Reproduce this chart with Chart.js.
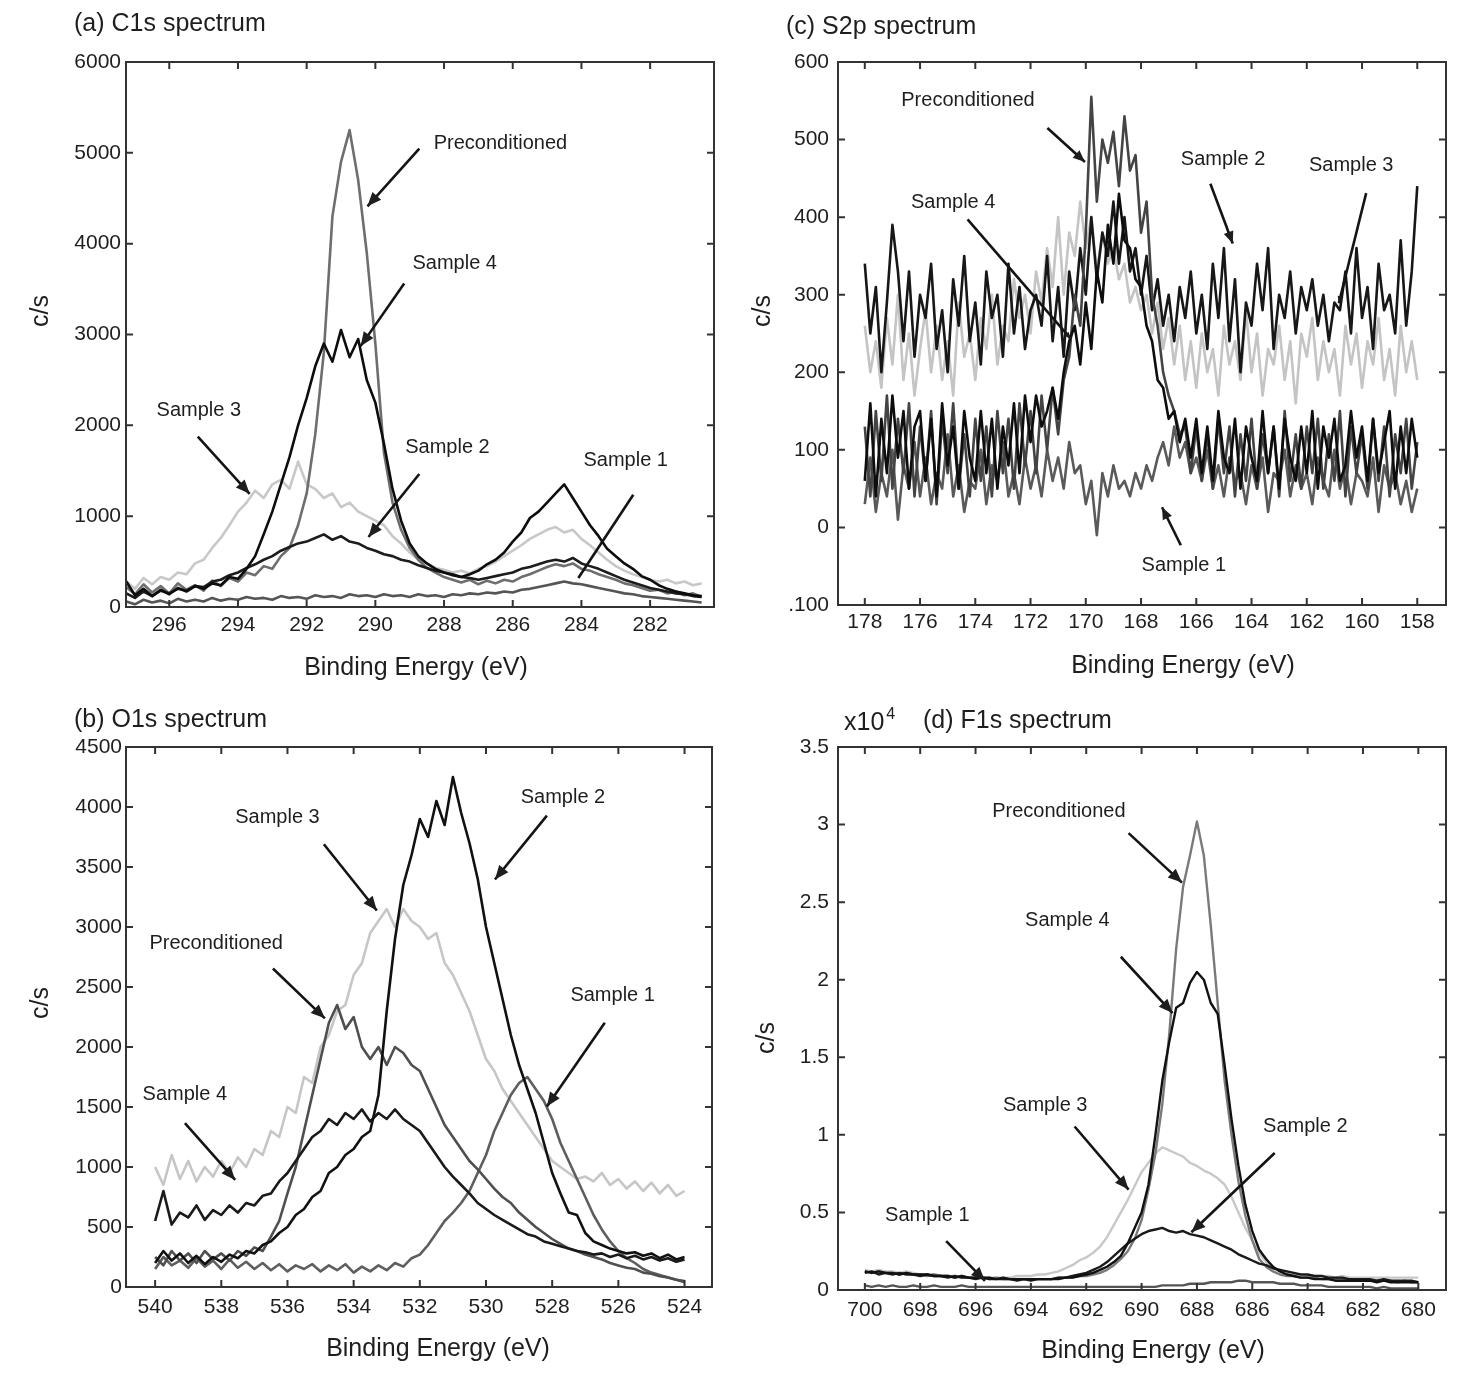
<!DOCTYPE html>
<html>
<head>
<meta charset="utf-8">
<script src="https://cdn.jsdelivr.net/npm/chart.js@4.4.0/dist/chart.umd.min.js"></script>
<style>
html,body{margin:0;padding:0;background:#ffffff;}
#wrap{position:relative;width:1470px;height:1381px;background:#fff;}
canvas{position:absolute;}
</style>
</head>
<body>
<div id="wrap">
<canvas id="cA" width="735" height="690" style="left:0px;top:0px;width:735px;height:690px"></canvas>
<canvas id="cC" width="735" height="690" style="left:735px;top:0px;width:735px;height:690px"></canvas>
<canvas id="cB" width="735" height="691" style="left:0px;top:690px;width:735px;height:691px"></canvas>
<canvas id="cD" width="735" height="691" style="left:735px;top:690px;width:735px;height:691px"></canvas>
</div>
<script>
// ---------------- (a) C1s spectrum ----------------
const c1sTitle = '(a) C1s spectrum';
const c1sStart = 297.25, c1sStep = 0.25;
const c1sXTicks = [296, 294, 292, 290, 288, 286, 284, 282];
const c1sYTicks = [0, 1000, 2000, 3000, 4000, 5000, 6000];
const c1sYTickLabels = ['0', '1000', '2000', '3000', '4000', '5000', '6000'];
const c1sPreconditioned = [220,140,250,160,230,150,260,190,240,180, 290,230,320,280,380,350,450,420,560,650, 900,1250,1900,2800,4300,4900,5250,4700,3900,2900, 1700,1150,850,650,520,430,380,330,300,270, 300,250,290,260,300,280,330,360,400,440, 470,450,480,420,400,360,330,300,260,240, 210,180,190,150,170,130,150,110];
const c1sSample1 = [60,30,80,50,70,40,90,60,80,60, 100,70,90,80,110,90,100,80,120,100, 110,90,130,110,120,100,140,120,130,110, 140,120,130,110,140,120,130,110,140,130, 150,140,160,150,170,160,190,200,220,240, 260,280,260,250,230,210,190,170,150,140, 120,110,100,90,80,70,60,50];
const c1sSample2 = [150,100,170,120,180,150,200,180,230,220, 280,300,350,380,430,470,520,560,620,660, 700,720,760,800,740,780,720,700,650,620, 580,560,520,500,460,430,400,380,360,330, 320,300,320,340,360,380,420,440,470,500, 520,500,540,480,450,420,380,340,300,270, 240,210,190,170,150,140,120,110];
const c1sSample3 = [280,200,320,250,330,300,380,360,480,520, 650,760,900,1050,1150,1280,1200,1350,1400,1300, 1600,1350,1300,1200,1250,1100,1150,1050,1000,950, 900,780,700,600,520,480,430,410,380,400, 370,420,450,500,560,620,680,750,800,850, 880,820,850,750,680,600,520,450,400,360, 330,300,280,300,260,280,240,260];
const c1sSample4 = [280,130,200,120,190,140,210,170,230,200, 260,240,330,310,420,560,800,1050,1350,1650, 2000,2300,2650,2900,2700,3050,2750,2950,2500,2250, 1800,1300,950,700,560,480,420,380,350,330, 360,400,470,520,600,720,820,980,1050,1150, 1250,1350,1200,1050,900,780,640,560,480,420, 340,300,240,200,170,150,130,120];

// ---------------- (b) O1s spectrum ----------------
const o1sTitle = '(b) O1s spectrum';
const o1sStart = 540, o1sStep = 0.25;
const o1sXTicks = [540, 538, 536, 534, 532, 530, 528, 526, 524];
const o1sYTicks = [0, 500, 1000, 1500, 2000, 2500, 3000, 3500, 4000, 4500];
const o1sYTickLabels = ['0', '500', '1000', '1500', '2000', '2500', '3000', '3500', '4000', '4500'];
const o1sPreconditioned = [250,180,300,220,280,200,300,230,280,220, 300,260,330,300,420,550,780,1000,1300,1600, 1900,2200,2350,2150,2250,2000,1900,2000,1850,2000, 1950,1850,1800,1650,1500,1350,1250,1150,1050,980, 900,820,750,700,620,560,500,450,400,360, 320,300,270,250,230,200,180,160,150,120, 110,90,80,60,50];
const o1sSample1 = [150,250,180,220,160,240,170,220,150,230, 160,210,150,200,140,190,130,180,150,190, 130,180,140,190,120,170,130,180,140,200, 170,240,270,350,450,550,620,700,800,950, 1100,1300,1450,1600,1700,1750,1650,1550,1400,1200, 1050,900,750,600,480,380,300,240,200,150, 120,100,80,60,40];
const o1sSample2 = [200,300,220,280,200,260,190,250,210,270, 240,300,280,350,380,450,500,600,650,750, 800,950,1000,1100,1150,1250,1300,1600,2300,2900, 3350,3600,3900,3750,4050,3850,4250,3950,3700,3400, 3000,2700,2400,2100,1850,1650,1450,1200,950,780, 620,600,450,380,350,320,300,280,290,260, 280,240,270,230,250];
const o1sSample3 = [1000,850,1100,900,1050,880,1000,920,1050,950, 1080,1000,1150,1100,1300,1250,1500,1450,1750,1700, 2000,2100,2300,2350,2600,2700,2950,3050,3150,3000, 3150,3050,3000,2900,2950,2700,2600,2450,2300,2100, 1900,1800,1650,1550,1450,1350,1250,1150,1050,1000, 950,900,920,880,950,850,900,820,880,800, 870,780,850,760,800];
const o1sSample4 = [550,800,520,620,580,680,560,640,600,680, 620,700,680,760,780,880,950,1050,1150,1250, 1300,1400,1350,1450,1400,1480,1380,1450,1400,1480, 1400,1350,1300,1200,1100,1000,920,850,780,700, 650,600,560,520,480,440,420,380,360,340, 320,300,290,270,280,250,270,240,260,230, 250,220,240,210,230];

// ---------------- (c) S2p spectrum ----------------
const s2pTitle = '(c) S2p spectrum';
const s2pStart = 178, s2pStep = 0.2;
const s2pXTicks = [178, 176, 174, 172, 170, 168, 166, 164, 162, 160, 158];
const s2pYTicks = [-100, 0, 100, 200, 300, 400, 500, 600];
const s2pYTickLabels = ['.100', '0', '100', '200', '300', '400', '500', '600'];
const s2pPreconditioned = [130,40,150,60,170,50,140,70,160,40, 130,60,150,30,140,70,160,50,120,40, 140,60,130,40,150,70,140,50,160,80, 150,70,170,100,180,120,190,220,300,260, 380,555,420,500,470,510,440,530,460,480, 380,420,300,260,200,170,150,120,130,70, 130,60,120,50,140,70,130,40,120,60, 140,50,120,70,130,40,150,60,120,50, 130,70,140,50,120,60,150,40,130,70, 120,50,140,60,130,40,120,70,140,50, 110];
const s2pSample1 = [30,90,20,70,40,100,10,80,50,110, 40,90,30,70,50,120,40,80,20,60, 50,100,30,80,60,110,40,70,30,90, 50,80,40,100,60,90,50,110,70,80, 30,60,-10,70,40,80,50,60,40,70, 50,80,60,90,110,80,130,90,110,70, 90,60,100,50,80,40,90,60,70,30, 80,50,90,20,70,60,100,40,80,50, 70,30,90,60,40,100,50,80,30,70, 60,40,90,20,80,50,70,30,60,20, 50];
const s2pSample2 = [340,250,310,200,290,390,330,240,330,220, 300,270,340,230,280,200,320,260,350,240, 290,210,330,270,300,220,340,250,310,230, 280,300,260,350,240,310,220,330,280,360, 300,400,320,380,350,420,340,400,330,360, 300,350,280,320,260,300,240,310,270,330, 250,300,230,340,270,360,240,320,200,290, 260,340,280,360,230,300,270,330,250,310, 280,320,260,300,240,290,280,330,250,360, 270,310,230,340,280,300,250,370,260,330, 440];
const s2pSample3 = [260,200,240,180,270,210,300,190,250,170, 230,280,200,260,190,240,170,290,220,250, 190,270,230,300,210,260,240,320,270,300, 250,330,290,360,310,400,300,380,350,420, 360,400,330,380,340,360,320,340,290,310, 280,300,250,290,230,270,210,260,190,240, 180,250,200,230,170,260,210,240,190,280, 200,250,170,230,210,260,190,240,160,250, 220,270,190,240,200,230,170,260,210,250, 180,240,210,270,190,230,170,260,200,240, 190];
const s2pSample4 = [60,160,40,140,70,170,90,150,50,130, 150,60,140,40,160,80,130,50,150,90, 60,150,70,140,50,130,80,160,70,170, 110,170,130,150,180,140,200,240,260,210, 290,230,330,290,390,340,430,370,360,320, 310,260,240,190,180,140,150,110,140,90, 140,70,130,60,150,90,70,140,50,130, 90,60,150,70,130,50,140,90,60,130, 70,150,50,130,90,140,60,80,150,90, 130,60,140,70,110,150,50,130,70,140, 90];

// ---------------- (d) F1s spectrum (x10^4 c/s) ----------------
const f1sTitle = '(d) F1s spectrum';
const f1sStart = 700, f1sStep = 0.25;
const f1sXTicks = [700, 698, 696, 694, 692, 690, 688, 686, 684, 682, 680];
const f1sYTicks = [0, 0.5, 1, 1.5, 2, 2.5, 3, 3.5];
const f1sYTickLabels = ['0', '0.5', '1', '1.5', '2', '2.5', '3', '3.5'];
const f1sPreconditioned = [0.12,0.11,0.12,0.11,0.11,0.10,0.11,0.10, 0.10,0.09,0.10,0.09,0.09,0.08,0.09,0.08, 0.08,0.08,0.07,0.08,0.07,0.07,0.07,0.07, 0.07,0.07,0.07,0.07,0.08,0.08,0.08,0.09, 0.09,0.10,0.11,0.13,0.16,0.20,0.25,0.33, 0.45,0.65,0.88,1.20,1.65,2.20,2.60,2.80, 3.02,2.80,2.35,1.85,1.35,1.00,0.70,0.48, 0.32,0.20,0.15,0.12,0.10,0.09,0.09,0.08, 0.08,0.08,0.07,0.07,0.07,0.07,0.06,0.06, 0.06,0.06,0.06,0.06,0.06,0.05,0.06,0.05,0.05];
const f1sSample1 = [0.03,0.02,0.03,0.02,0.03,0.02,0.02,0.03, 0.02,0.02,0.03,0.02,0.02,0.02,0.03,0.02, 0.02,0.02,0.02,0.02,0.02,0.02,0.02,0.02, 0.02,0.02,0.02,0.02,0.02,0.02,0.02,0.02, 0.02,0.02,0.02,0.02,0.02,0.02,0.02,0.02, 0.02,0.02,0.02,0.03,0.03,0.03,0.03,0.04, 0.04,0.04,0.05,0.05,0.05,0.05,0.06,0.06, 0.05,0.05,0.05,0.05,0.04,0.04,0.04,0.03, 0.03,0.03,0.03,0.02,0.02,0.02,0.02,0.02, 0.02,0.02,0.01,0.02,0.01,0.01,0.01,0.01,0.01];
const f1sSample2 = [0.11,0.12,0.10,0.11,0.10,0.11,0.10,0.10, 0.09,0.10,0.09,0.09,0.08,0.09,0.08,0.08, 0.07,0.08,0.07,0.07,0.07,0.07,0.06,0.07, 0.06,0.07,0.07,0.07,0.08,0.08,0.09,0.10, 0.11,0.13,0.15,0.18,0.22,0.26,0.30,0.33, 0.36,0.38,0.39,0.40,0.38,0.37,0.38,0.36, 0.35,0.34,0.32,0.30,0.28,0.26,0.23,0.21, 0.19,0.17,0.16,0.14,0.13,0.12,0.11,0.10, 0.10,0.09,0.09,0.08,0.08,0.08,0.07,0.07, 0.07,0.07,0.06,0.07,0.06,0.06,0.06,0.06,0.05];
const f1sSample3 = [0.13,0.12,0.13,0.12,0.12,0.11,0.12,0.11, 0.10,0.10,0.10,0.09,0.09,0.09,0.08,0.08, 0.08,0.08,0.08,0.08,0.08,0.08,0.09,0.09, 0.09,0.10,0.10,0.11,0.12,0.14,0.16,0.19, 0.21,0.24,0.28,0.34,0.42,0.50,0.58,0.67, 0.76,0.82,0.88,0.92,0.90,0.88,0.86,0.82, 0.80,0.77,0.75,0.72,0.68,0.60,0.50,0.40, 0.32,0.24,0.18,0.14,0.12,0.11,0.10,0.10, 0.09,0.09,0.09,0.09,0.08,0.09,0.08,0.08, 0.08,0.08,0.08,0.08,0.08,0.08,0.08,0.08,0.08];
const f1sSample4 = [0.12,0.11,0.12,0.11,0.11,0.10,0.11,0.10, 0.10,0.10,0.09,0.09,0.09,0.08,0.09,0.08, 0.08,0.08,0.08,0.07,0.08,0.07,0.07,0.07, 0.07,0.07,0.07,0.07,0.07,0.08,0.08,0.09, 0.10,0.11,0.13,0.15,0.18,0.22,0.30,0.40, 0.50,0.68,1.00,1.35,1.60,1.82,1.85,1.98, 2.05,2.00,1.85,1.78,1.45,1.10,0.80,0.55, 0.38,0.26,0.20,0.15,0.12,0.10,0.09,0.08, 0.08,0.07,0.07,0.07,0.06,0.06,0.06,0.06, 0.06,0.06,0.05,0.06,0.05,0.05,0.05,0.05,0.05];

const xTitleText = 'Binding Energy (eV)';
const yTitleText = 'c/s';

// ---------------- rendering ----------------
const FONT = '"Liberation Sans", Arial, Helvetica, sans-serif';
Chart.defaults.font.family = FONT;

function grid(start, step, n) {
  return Array.from({length: n}, (_, i) => +(start - step * i).toFixed(3));
}

function drawArrow(ctx, x1, y1, x2, y2, head) {
  ctx.beginPath(); ctx.moveTo(x1, y1); ctx.lineTo(x2, y2); ctx.stroke();
  if (!head) return;
  const a = Math.atan2(y2 - y1, x2 - x1);
  const L = head, W = head * 0.42;
  ctx.beginPath();
  ctx.moveTo(x2, y2);
  ctx.lineTo(x2 - L * Math.cos(a) + W * Math.sin(a), y2 - L * Math.sin(a) - W * Math.cos(a));
  ctx.lineTo(x2 - L * Math.cos(a) - W * Math.sin(a), y2 - L * Math.sin(a) + W * Math.cos(a));
  ctx.closePath(); ctx.fill();
}

function makeDecor(p) {
  return {
    id: 'decor_' + p.canvas,
    afterDraw(chart) {
      const {ctx, chartArea: a} = chart;
      const xs = chart.scales.x, ys = chart.scales.y;
      ctx.save();
      ctx.strokeStyle = '#333'; ctx.lineWidth = 2;
      ctx.strokeRect(a.left, a.top, a.right - a.left, a.bottom - a.top);
      ctx.beginPath();
      p.xTicks.forEach(v => {
        const px = xs.getPixelForValue(v);
        ctx.moveTo(px, a.bottom); ctx.lineTo(px, a.bottom - 7);
        ctx.moveTo(px, a.top); ctx.lineTo(px, a.top + 7);
      });
      p.yTicks.forEach(v => {
        const py = ys.getPixelForValue(v);
        ctx.moveTo(a.left, py); ctx.lineTo(a.left + 7, py);
        ctx.moveTo(a.right, py); ctx.lineTo(a.right - 7, py);
      });
      ctx.stroke();
      ctx.fillStyle = '#1e1e1e'; ctx.strokeStyle = '#141414'; ctx.lineWidth = 2.6;
      ctx.font = '20px ' + FONT; ctx.textAlign = 'left'; ctx.textBaseline = 'middle';
      p.notes.forEach(n => {
        ctx.fillText(n.text, xs.getPixelForValue(n.at[0]), ys.getPixelForValue(n.at[1]));
        drawArrow(ctx, xs.getPixelForValue(n.from[0]), ys.getPixelForValue(n.from[1]),
                  xs.getPixelForValue(n.to[0]), ys.getPixelForValue(n.to[1]),
                  n.head === undefined ? 14 : n.head);
      });
      ctx.fillStyle = '#1e1e1e';
      ctx.font = '25px ' + FONT;
      ctx.textAlign = 'left';
      ctx.fillText(p.title.text, p.title.x, p.title.y);
      if (p.scaleNote) {
        ctx.fillText('x10', p.scaleNote.x, p.scaleNote.y);
        const w = ctx.measureText('x10').width;
        ctx.font = '16px ' + FONT;
        ctx.fillText('4', p.scaleNote.x + w + 2, p.scaleNote.y - 8);
        ctx.font = '25px ' + FONT;
      }
      ctx.textAlign = 'center';
      ctx.fillText(xTitleText, p.xTitle.x, p.xTitle.y);
      ctx.save();
      ctx.translate(p.yTitle.x, p.yTitle.y);
      ctx.rotate(-Math.PI / 2);
      ctx.fillText(yTitleText, 0, 0);
      ctx.restore();
      ctx.restore();
    }
  };
}

function makePanel(p) {
  const datasets = p.series.map(s => ({
    label: s.name,
    data: p.energy.map((e, i) => ({x: e, y: s.values[i]})),
    borderColor: s.color,
    borderWidth: p.lineWidth,
    borderJoinStyle: 'round',
    pointRadius: 0,
    tension: 0,
    fill: false
  }));
  return new Chart(document.getElementById(p.canvas), {
    type: 'line',
    data: {datasets},
    options: {
      responsive: false,
      animation: false,
      devicePixelRatio: 1,
      events: [],
      layout: {padding: {left: 0, top: p.area.top, right: p.w - p.area.right, bottom: 0}},
      plugins: {legend: {display: false}, tooltip: {enabled: false}, title: {display: false}},
      scales: {
        x: {
          type: 'linear', reverse: true, min: p.xMin, max: p.xMax,
          afterBuildTicks: sc => { sc.ticks = p.xTicks.map(v => ({value: v})); },
          afterFit: sc => { sc.height = p.h - p.area.bottom; },
          grid: {display: false, drawTicks: false},
          border: {display: false},
          ticks: {autoSkip: false, maxRotation: 0, minRotation: 0, padding: p.xPad, color: '#1e1e1e',
                  font: {family: FONT, size: 21}, callback: (v, i) => String(p.xTicks[i])}
        },
        y: {
          type: 'linear', min: p.yMin, max: p.yMax,
          afterBuildTicks: sc => { sc.ticks = p.yTicks.map(v => ({value: v})); },
          afterFit: sc => { sc.width = p.area.left; },
          grid: {display: false, drawTicks: false},
          border: {display: false},
          ticks: {autoSkip: false, padding: p.yPad, color: '#1e1e1e',
                  font: {family: FONT, size: 21}, callback: (v, i) => p.yLabels[i]}
        }
      }
    },
    plugins: [makeDecor(p)]
  });
}

const panelA = {
  canvas: 'cA', w: 735, h: 690, lineWidth: 2.6,
  area: {left: 126, top: 62, right: 714, bottom: 607},
  energy: grid(c1sStart, c1sStep, c1sPreconditioned.length),
  series: [
    {name: 'Sample 4', values: c1sSample4, color: '#0d0d0d'},
    {name: 'Sample 2', values: c1sSample2, color: '#1c1c1c'},
    {name: 'Sample 1', values: c1sSample1, color: '#555555'},
    {name: 'Preconditioned', values: c1sPreconditioned, color: '#6e6e6e'},
    {name: 'Sample 3', values: c1sSample3, color: '#c8c8c8'}
  ],
  xMin: 280.14, xMax: 297.26, xTicks: c1sXTicks, xPad: 6,
  yMin: 0, yMax: 6000, yTicks: c1sYTicks, yLabels: c1sYTickLabels, yPad: 5,
  title: {text: c1sTitle, x: 74, y: 24},
  yTitle: {x: 41, y: 311}, xTitle: {x: 416, y: 668},
  notes: [
    {text: 'Preconditioned', at: [288.30, 5105], from: [288.72, 5047], to: [290.23, 4411]},
    {text: 'Sample 4', at: [288.92, 3785], from: [289.16, 3562], to: [290.43, 2872]},
    {text: 'Sample 3', at: [296.37, 2159], from: [295.17, 1877], to: [293.66, 1246]},
    {text: 'Sample 2', at: [289.13, 1756], from: [288.72, 1464], to: [290.20, 771]},
    {text: 'Sample 1', at: [283.94, 1610], from: [282.49, 1236], to: [284.09, 319], head: 0}
  ]
};

const panelC = {
  canvas: 'cC', w: 735, h: 690, lineWidth: 2.6,
  area: {left: 103, top: 62, right: 711, bottom: 605},
  energy: grid(s2pStart, s2pStep, s2pPreconditioned.length),
  series: [
    {name: 'Sample 4', values: s2pSample4, color: '#0d0d0d'},
    {name: 'Preconditioned', values: s2pPreconditioned, color: '#444444'},
    {name: 'Sample 2', values: s2pSample2, color: '#171717'},
    {name: 'Sample 1', values: s2pSample1, color: '#5a5a5a'},
    {name: 'Sample 3', values: s2pSample3, color: '#c4c4c4'}
  ],
  xMin: 156.96, xMax: 178.97, xTicks: s2pXTicks, xPad: 5,
  yMin: -100, yMax: 600, yTicks: s2pYTicks, yLabels: s2pYTickLabels, yPad: 9,
  title: {text: s2pTitle, x: 51, y: 27},
  yTitle: {x: 28, y: 311}, xTitle: {x: 448, y: 666},
  notes: [
    {text: 'Preconditioned', at: [176.68, 551], from: [171.39, 515], to: [170.03, 471], head: 12},
    {text: 'Sample 4', at: [176.33, 419], from: [174.28, 397], to: [170.54, 243], head: 7},
    {text: 'Sample 2', at: [166.56, 474], from: [165.49, 443], to: [164.68, 366], head: 12},
    {text: 'Sample 3', at: [161.92, 467], from: [159.85, 431], to: [160.84, 289], head: 7},
    {text: 'Sample 1', at: [167.98, -49], from: [166.56, -23], to: [167.24, 26], head: 12}
  ]
};

const panelB = {
  canvas: 'cB', w: 735, h: 691, lineWidth: 2.6,
  area: {left: 126, top: 57, right: 712, bottom: 597},
  energy: grid(o1sStart, o1sStep, o1sPreconditioned.length),
  series: [
    {name: 'Sample 2', values: o1sSample2, color: '#111111'},
    {name: 'Sample 4', values: o1sSample4, color: '#1a1a1a'},
    {name: 'Preconditioned', values: o1sPreconditioned, color: '#4f4f4f'},
    {name: 'Sample 1', values: o1sSample1, color: '#5e5e5e'},
    {name: 'Sample 3', values: o1sSample3, color: '#c6c6c6'}
  ],
  xMin: 523.17, xMax: 540.88, xTicks: o1sXTicks, xPad: 8,
  yMin: 0, yMax: 4500, yTicks: o1sYTicks, yLabels: o1sYTickLabels, yPad: 4,
  title: {text: o1sTitle, x: 74, y: 30},
  yTitle: {x: 41, y: 313}, xTitle: {x: 438, y: 659},
  notes: [
    {text: 'Sample 3', at: [537.58, 3910], from: [534.90, 3690], to: [533.30, 3138]},
    {text: 'Sample 2', at: [528.95, 4083], from: [528.16, 3928], to: [529.73, 3396]},
    {text: 'Preconditioned', at: [540.17, 2864], from: [536.44, 2654], to: [534.87, 2239]},
    {text: 'Sample 1', at: [527.45, 2430], from: [526.41, 2203], to: [528.16, 1505]},
    {text: 'Sample 4', at: [540.38, 1604], from: [539.10, 1366], to: [537.58, 892]}
  ]
};

const panelD = {
  canvas: 'cD', w: 735, h: 691, lineWidth: 2.4,
  area: {left: 103, top: 57, right: 711, bottom: 600},
  energy: grid(f1sStart, f1sStep, f1sPreconditioned.length),
  series: [
    {name: 'Sample 4', values: f1sSample4, color: '#111111'},
    {name: 'Sample 2', values: f1sSample2, color: '#1a1a1a'},
    {name: 'Preconditioned', values: f1sPreconditioned, color: '#7a7a7a'},
    {name: 'Sample 1', values: f1sSample1, color: '#555555'},
    {name: 'Sample 3', values: f1sSample3, color: '#c8c8c8'}
  ],
  xMin: 679.0, xMax: 700.97, xTicks: f1sXTicks, xPad: 8,
  yMin: 0, yMax: 3.5, yTicks: f1sYTicks, yLabels: f1sYTickLabels, yPad: 9,
  title: {text: f1sTitle, x: 188, y: 31},
  scaleNote: {x: 109, y: 33},
  yTitle: {x: 32, y: 348}, xTitle: {x: 418, y: 661},
  notes: [
    {text: 'Preconditioned', at: [695.40, 3.086], from: [690.47, 2.945], to: [688.54, 2.626]},
    {text: 'Sample 4', at: [694.21, 2.384], from: [690.75, 2.148], to: [688.88, 1.785]},
    {text: 'Sample 3', at: [695.01, 1.191], from: [692.42, 1.054], to: [690.47, 0.647]},
    {text: 'Sample 2', at: [685.61, 1.054], from: [685.19, 0.883], to: [688.20, 0.372]},
    {text: 'Sample 1', at: [699.27, 0.480], from: [697.06, 0.315], to: [695.66, 0.059]}
  ]
};

[panelA, panelC, panelB, panelD].forEach(makePanel);
</script>
</body>
</html>
